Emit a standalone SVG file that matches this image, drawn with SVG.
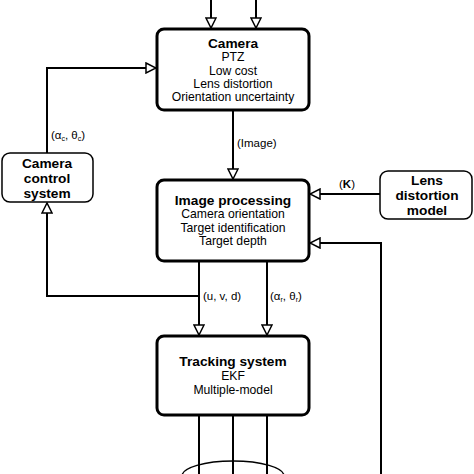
<svg xmlns="http://www.w3.org/2000/svg" width="474" height="474" viewBox="0 0 474 474">
<style>
.main{fill:#fff;stroke:#000;stroke-width:3}
.side{fill:#fff;stroke:#000;stroke-width:1.5}
.c{fill:none;stroke:#000;stroke-width:2}
text{font-family:"Liberation Sans",Arial,sans-serif;font-size:12.2px;text-anchor:middle;fill:#000}
.b{font-weight:bold;font-size:13.7px}
.l{text-anchor:start;font-size:11.5px}
</style>
<defs>
<marker id="ah" markerWidth="12" markerHeight="12" viewBox="0 0 12 12" refX="11" refY="6" orient="auto" markerUnits="userSpaceOnUse">
<path d="M1,1 L11,6 L1,11 Z" fill="#fff" stroke="#000" stroke-width="1.5"/>
</marker>
</defs>
<g id="connectors">
<line class="c" x1="211" y1="0" x2="211" y2="28" marker-end="url(#ah)"/>
<line class="c" x1="256" y1="0" x2="256" y2="28" marker-end="url(#ah)"/>
<line class="c" x1="233" y1="110" x2="233" y2="179" marker-end="url(#ah)"/>
<polyline class="c" points="47,153 47,68 156,68" marker-end="url(#ah)"/>
<line class="c" x1="380" y1="194" x2="310" y2="194" marker-end="url(#ah)"/>
<polyline class="c" points="381,474 381,243 310,243" marker-end="url(#ah)"/>
<line class="c" x1="199" y1="261" x2="199" y2="335" marker-end="url(#ah)"/>
<line class="c" x1="267" y1="261" x2="267" y2="335" marker-end="url(#ah)"/>
<polyline class="c" points="199,296 47,296 47,203" marker-end="url(#ah)"/>
<line class="c" x1="199" y1="415" x2="199" y2="474" stroke-width="1.5"/>
<line class="c" x1="233" y1="415" x2="233" y2="474" stroke-width="1.5"/>
<line class="c" x1="267" y1="415" x2="267" y2="474" stroke-width="1.5"/>
<ellipse cx="233" cy="476" rx="51" ry="15" fill="none" stroke="#000" stroke-width="1.5"/>
<text class="l" x="51" y="139">(α<tspan font-size="7" dy="2">c</tspan><tspan dy="-2">, θ</tspan><tspan font-size="7" dy="2">c</tspan><tspan dy="-2">)</tspan></text>
<text class="l" x="237" y="147">(Image)</text>
<text class="l" x="339" y="188">(<tspan font-weight="bold">K</tspan>)</text>
<text class="l" x="203" y="300">(u, v, d)</text>
<text class="l" x="270" y="300">(α<tspan font-size="7" dy="2">r</tspan><tspan dy="-2">, θ</tspan><tspan font-size="7" dy="2">r</tspan><tspan dy="-2">)</tspan></text>
</g>
<g id="camera">
<rect class="main" x="157" y="29" width="152" height="81" rx="7"/>
<text class="b" x="233" y="48">Camera</text>
<text x="233" y="61">PTZ</text>
<text x="233" y="75">Low cost</text>
<text x="233" y="88">Lens distortion</text>
<text x="233" y="101">Orientation uncertainty</text>
</g>
<g id="camera-control">
<rect class="side" x="2" y="153" width="91" height="49" rx="8"/>
<text class="b" x="47" y="168">Camera</text>
<text class="b" x="47" y="183">control</text>
<text class="b" x="47" y="198">system</text>
</g>
<g id="image-processing">
<rect class="main" x="157" y="180" width="152" height="81" rx="7"/>
<text class="b" x="233" y="205">Image processing</text>
<text x="233" y="218">Camera orientation</text>
<text x="233" y="232">Target identification</text>
<text x="233" y="245">Target depth</text>
</g>
<g id="lens-model">
<rect class="side" x="380" y="171" width="92" height="48" rx="8"/>
<text class="b" x="427" y="185">Lens</text>
<text class="b" x="427" y="200">distortion</text>
<text class="b" x="427" y="215">model</text>
</g>
<g id="tracking">
<rect class="main" x="157" y="336" width="152" height="79" rx="7"/>
<text class="b" x="233" y="366">Tracking system</text>
<text x="233" y="380">EKF</text>
<text x="233" y="394">Multiple-model</text>
</g>
</svg>
